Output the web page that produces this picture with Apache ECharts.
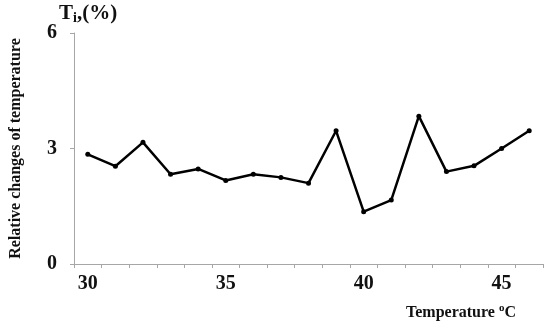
<!DOCTYPE html>
<html>
<head>
<meta charset="utf-8">
<script src="https://cdn.jsdelivr.net/npm/echarts@6/dist/echarts.min.js"></script>
<style>html,body{margin:0;padding:0;background:#fff;}#c{width:550px;height:327px;}</style>
</head>
<body>
<div id="c"></div>
<script>
const temperatures = ['30','31','32','33','34','35','36','37','38','39','40','41','42','43','44','45','46'];
const relChange = [2.85,2.54,3.16,2.33,2.47,2.17,2.33,2.25,2.10,3.46,1.36,1.66,3.84,2.40,2.55,3.00,3.46];
const yTicks = [0,3,6];
const shownLabels = ['30','35','40','45'];

const chart = echarts.init(document.getElementById('c'), null, {renderer:'canvas'});
const serif = '"Liberation Serif","Times New Roman",serif';
chart.setOption({
  animation:false,
  backgroundColor:'#fff',
  grid:{left:69,right:7,top:33,bottom:63},
  xAxis:{
    type:'category',
    data:temperatures,
    boundaryGap:true,
    axisLine:{lineStyle:{color:'#a6a6a6',width:1}},
    axisTick:{show:true,interval:0,length:4,lineStyle:{color:'#a6a6a6'}},
    axisLabel:{
      interval:0,
      formatter:v=>shownLabels.includes(v)?v:'',
      color:'#111',fontFamily:serif,fontWeight:'bold',fontSize:20,margin:10
    },
    splitLine:{show:false}
  },
  yAxis:{
    type:'value',min:yTicks[0],max:yTicks[yTicks.length-1],interval:3,
    axisLine:{show:true,lineStyle:{color:'#a6a6a6',width:1}},
    axisTick:{show:true,length:4,lineStyle:{color:'#a6a6a6'}},
    axisLabel:{color:'#111',fontFamily:serif,fontWeight:'bold',fontSize:20,margin:17},
    splitLine:{show:false},
    name:'Relative changes of temperature',
    nameLocation:'middle',nameRotate:90,nameGap:50,
    nameTextStyle:{color:'#111',fontFamily:serif,fontWeight:'bold',fontSize:16}
  },
  series:[{
    type:'line',data:relChange,
    lineStyle:{color:'#000',width:2.5},
    itemStyle:{color:'#000'},
    symbol:'circle',symbolSize:5,showSymbol:true
  }],
  graphic:[
    {type:'text',left:59,top:3,style:{
      text:'{a|T}{b|i}{a|,(%)}',
      rich:{
        a:{fontFamily:serif,fontWeight:'bold',fontSize:21,fill:'#111'},
        b:{fontFamily:serif,fontWeight:'bold',fontSize:14,fill:'#111',padding:[9,0,0,0]}
      }
    }},
    {type:'text',left:406,top:303,style:{
      text:'{a|Temperature }{b|o}{a|C}',
      rich:{
        a:{fontFamily:serif,fontWeight:'bold',fontSize:16,fill:'#111'},
        b:{fontFamily:serif,fontWeight:'bold',fontSize:11,fill:'#111',padding:[0,0,9,0]}
      }
    }}
  ]
});
</script>
</body>
</html>
